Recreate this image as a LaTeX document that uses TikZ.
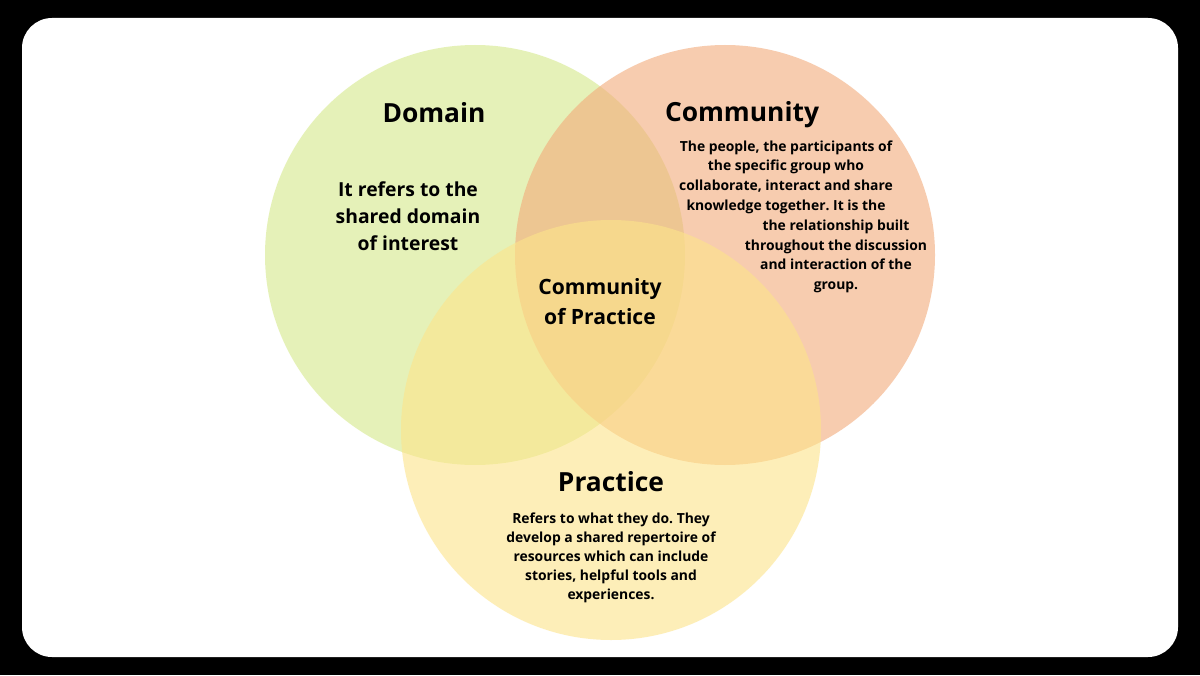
\documentclass[tikz,border=0pt]{standalone}
\usepackage{fontspec}
\setmainfont{Open Sans}
\usepackage{xcolor}
\usetikzlibrary{shapes,positioning}
\definecolor{domaincolor}{RGB}{213,233,137}
\definecolor{communitycolor}{RGB}{243,170,122}
\definecolor{practicecolor}{RGB}{253,228,138}
\frenchspacing

\begin{document}
\begin{tikzpicture}[
    venn/.style={circle, minimum size=8.4cm, inner sep=0pt, fill opacity=0.6},
    heading/.style={font=\fontsize{15}{18}\selectfont\bfseries, align=center},
    body/.style={font=\fontsize{7.9}{11.2}\selectfont\bfseries, align=center}
]

% Frame
\fill[black] (0,0) rectangle (24,13.5);
\fill[white, rounded corners=0.6cm] (0.44,0.36) rectangle (23.56,13.14);

% Circles
\node[venn, fill=domaincolor] (domaincirc) at (9.5,8.4) {};
\node[venn, fill=communitycolor] (communitycirc) at (14.5,8.4) {};
\node[venn, fill=practicecolor] (practicecirc) at (12.22,4.9) {};

% Domain
\node[heading] (domain) at (8.68,11.24) {Domain};
\node[font=\fontsize{11}{15.3}\selectfont\bfseries, align=center] (domaintxt) at (8.16,9.18) {It refers to the\\shared domain\\of interest};

% Community
\node[heading] (community) at (14.84,11.2) {Community};
\node[body] (commtxt) at (15.72,9.96) {The people, the participants of\\the specific group who\\collaborate, interact and share\\knowledge together. It is the};
\node[body] (commtxtb) at (16.72,8.37) {the relationship built\\throughout the discussion\\and interaction of the\\group.};

% Centre
\node[font=\fontsize{12}{17}\selectfont\bfseries, align=center] (cop) at (12.0,7.46) {Community\\of Practice};

% Practice
\node[heading] (practice) at (12.22,3.86) {Practice};
\node[body, font=\fontsize{7.9}{10.8}\selectfont\bfseries] (practxt) at (12.22,2.34) {Refers to what they do. They\\develop a shared repertoire of\\resources which can include\\stories, helpful tools and\\experiences.};

\end{tikzpicture}
\end{document}
